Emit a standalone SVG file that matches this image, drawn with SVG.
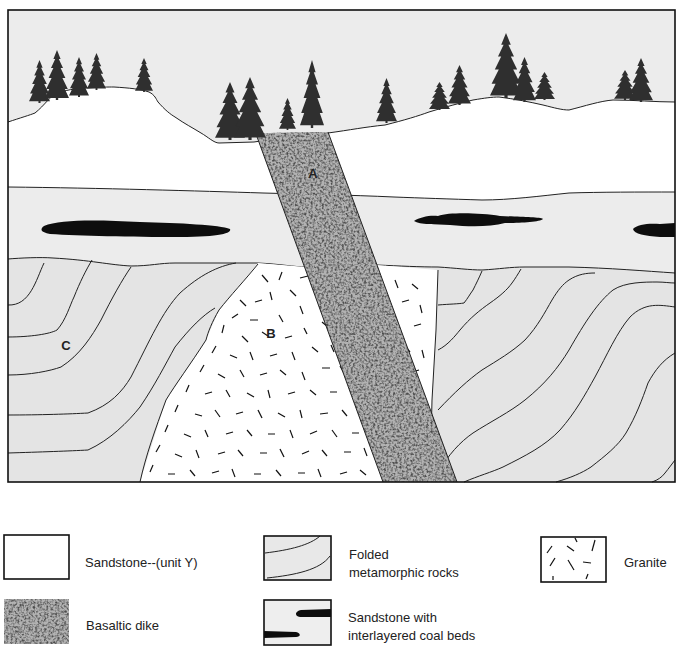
<svg xmlns="http://www.w3.org/2000/svg" width="683" height="656" viewBox="0 0 683 656">
<defs>
<filter id="grain" x="0" y="0" width="100%" height="100%" color-interpolation-filters="sRGB">
<feTurbulence type="fractalNoise" baseFrequency="0.45" numOctaves="2" seed="3" result="n"/>
<feColorMatrix in="n" type="matrix" values="0 0 0 0 0.3  0 0 0 0 0.3  0 0 0 0 0.3  2.6 0 0 0 -1.05" result="m"/>
<feComposite in="m" in2="SourceGraphic" operator="in" result="c"/>
<feMerge><feMergeNode in="SourceGraphic"/><feMergeNode in="c"/></feMerge>
</filter>
<symbol id="tree" viewBox="0 0 40 100" preserveAspectRatio="none">
<path d="M20 0 L26 18 L23 18 L30 36 L26 36 L34 56 L29 56 L38 78 L33 78 L40 96 L22 96 L22 100 L18 100 L18 96 L0 96 L7 78 L2 78 L11 56 L6 56 L14 36 L10 36 L17 18 L14 18 Z" fill="#2f2f2f"/>
</symbol>
<clipPath id="gclip"><path d="M258 263 L306 267 L377 265 L438 270 L436 330 L432 400 L430 482 L140 482 L166 400 L206 340 L219 310 Z"/></clipPath>
</defs>
<style>
.ln{fill:none;stroke:#222;stroke-width:1}
.fr{fill:none;stroke:#111;stroke-width:1.6}
.coal{fill:#0d0d0d}
.d{stroke:#111;stroke-width:1.2;stroke-linecap:butt}
.lbl{font-family:"Liberation Sans",Arial,sans-serif;font-size:13px;fill:#222}
.ab{font-family:"Liberation Sans",Arial,sans-serif;font-size:13px;font-weight:bold;fill:#222}
</style>
<rect width="683" height="656" fill="#fff"/>
<g id="section">
<rect x="8" y="10" width="667" height="472" fill="#ececec"/>
<path d="M8 122 C20 118 30 115 35 113 C45 105 50 96 57 93 C70 89 80 88 88 88 C100 87 108 87 114 87 C130 88 140 89 149 92 C155 95 156 99 158 102 C165 110 170 114 175 117 C185 124 193 128 201 133 C208 137 214 143 219 143 L254 142 C280 138 300 136 328 133 C350 130 365 127 385 125 C405 120 418 116 429 112 C445 107 460 103 473 100 C485 98 492 97 499 97 C515 99 530 102 543 105 C555 108 562 110 569 110 C585 106 600 101 613 100 C635 100 655 102 675 102 L675 192 C640 192 600 192 569 193 C540 196 510 200 482 200 C450 199 420 198 394 197 C350 195 300 194 263 193 C200 191 100 188 8 187 Z" fill="#fff"/>
<path class="ln" d="M8 122 C20 118 30 115 35 113 C45 105 50 96 57 93 C70 89 80 88 88 88 C100 87 108 87 114 87 C130 88 140 89 149 92 C155 95 156 99 158 102 C165 110 170 114 175 117 C185 124 193 128 201 133 C208 137 214 143 219 143 L254 142 C280 138 300 136 328 133 C350 130 365 127 385 125 C405 120 418 116 429 112 C445 107 460 103 473 100 C485 98 492 97 499 97 C515 99 530 102 543 105 C555 108 562 110 569 110 C585 106 600 101 613 100 C635 100 655 102 675 102"/>
<path class="ln" d="M8 187 C100 188 200 191 263 193 C300 194 350 195 394 197 C420 198 450 199 482 200 C510 200 540 196 569 193 C600 192 640 192 675 192"/>
<path class="coal" d="M44 226 C60 219 100 220 140 222 C180 223 220 225 230 229 C232 233 220 237 180 237 C130 237 80 236 50 234 C40 232 40 229 44 226 Z"/>
<path class="coal" d="M414 221 C420 217 430 215 438 216 C450 212 480 213 500 216 C520 217 540 217 543 219 C540 222 520 223 505 223 C490 227 470 227 450 225 C435 224 420 225 414 221 Z"/>
<path class="coal" d="M633 229 C637 224 650 223 660 224 L675 223 L675 237 L660 237 C645 236 634 234 633 229 Z"/>
<path d="M8 259 C20 258 40 257 53 258 C90 260 110 265 131 266 C150 266 160 263 175 263 L258 263 C280 264 295 267 306 267 C330 266 355 265 377 265 C400 266 420 267 438 267 C455 268 470 270 482 270 C500 269 510 267 525 267 L569 267 C610 268 645 271 675 273 L675 482 L8 482 Z" fill="#e4e4e4"/>
<path class="ln" d="M8 259 C20 258 40 257 53 258 C90 260 110 265 131 266 C150 266 160 263 175 263 L258 263 C280 264 295 267 306 267 C330 266 355 265 377 265 C400 266 420 267 438 267 C455 268 470 270 482 270 C500 269 510 267 525 267 L569 267 C610 268 645 271 675 273"/>
<path class="ln" d="M8 305 C30 306 36 280 44 263"/>
<path class="ln" d="M8 337 C30 337 50 334 57 330 C66 320 70 305 74 297 C80 282 86 270 92 260"/>
<path class="ln" d="M8 375 C30 375 50 371 61 367 C80 355 92 336 101 320 C112 298 122 280 131 267"/>
<path class="ln" d="M8 415 C40 415 70 414 88 413 C110 405 122 392 131 377 C150 340 162 312 180 293 C200 275 218 266 236 263"/>
<path class="ln" d="M8 453 C40 452 70 451 88 450 C110 440 128 422 140 407 C155 385 165 365 175 347 C190 328 203 315 215 308"/>
<path d="M258 263 L306 267 L377 265 L438 270 L436 330 L432 400 L430 482 L140 482 L166 400 L206 340 L219 310 Z" fill="#fff"/>
<path class="ln" d="M258 264 C245 280 230 296 219 310 C212 322 208 332 206 340 C190 365 175 385 166 400 C155 430 146 455 140 482"/>
<path class="ln" d="M438 270 L436 330 L432 400 L430 482"/>
<g clip-path="url(#gclip)">
<g class="d">
<line x1="262" y1="275" x2="268" y2="282"/><line x1="282" y1="272" x2="279" y2="280"/><line x1="300" y1="278" x2="308" y2="276"/><line x1="270" y1="292" x2="272" y2="300"/><line x1="290" y1="290" x2="296" y2="296"/>
<line x1="240" y1="300" x2="246" y2="306"/><line x1="255" y1="302" x2="262" y2="300"/><line x1="232" y1="318" x2="238" y2="314"/><line x1="250" y1="320" x2="258" y2="320"/><line x1="279" y1="315" x2="283" y2="322"/>
<line x1="300" y1="306" x2="303" y2="314"/><line x1="318" y1="300" x2="325" y2="303"/><line x1="222" y1="333" x2="224" y2="325"/><line x1="242" y1="336" x2="248" y2="342"/><line x1="262" y1="332" x2="268" y2="336"/>
<line x1="285" y1="338" x2="292" y2="336"/><line x1="304" y1="328" x2="307" y2="334"/><line x1="322" y1="322" x2="328" y2="327"/><line x1="212" y1="353" x2="216" y2="346"/><line x1="230" y1="355" x2="237" y2="358"/>
<line x1="250" y1="352" x2="253" y2="360"/><line x1="270" y1="356" x2="277" y2="354"/><line x1="292" y1="352" x2="295" y2="360"/><line x1="312" y1="347" x2="318" y2="352"/><line x1="331" y1="345" x2="334" y2="352"/>
<line x1="200" y1="372" x2="204" y2="365"/><line x1="218" y1="374" x2="225" y2="378"/><line x1="240" y1="370" x2="244" y2="377"/><line x1="260" y1="375" x2="267" y2="373"/><line x1="280" y1="370" x2="286" y2="375"/>
<line x1="302" y1="372" x2="305" y2="380"/><line x1="322" y1="368" x2="330" y2="368"/><line x1="340" y1="366" x2="344" y2="373"/><line x1="186" y1="392" x2="189" y2="385"/><line x1="205" y1="394" x2="212" y2="392"/>
<line x1="226" y1="390" x2="230" y2="397"/><line x1="247" y1="393" x2="254" y2="397"/><line x1="268" y1="390" x2="270" y2="398"/><line x1="288" y1="394" x2="295" y2="392"/><line x1="310" y1="390" x2="316" y2="395"/>
<line x1="330" y1="392" x2="337" y2="392"/><line x1="350" y1="386" x2="353" y2="394"/><line x1="175" y1="412" x2="178" y2="405"/><line x1="195" y1="414" x2="202" y2="416"/><line x1="215" y1="410" x2="220" y2="417"/>
<line x1="236" y1="414" x2="243" y2="412"/><line x1="258" y1="410" x2="262" y2="418"/><line x1="278" y1="413" x2="285" y2="417"/><line x1="300" y1="410" x2="302" y2="418"/><line x1="320" y1="414" x2="328" y2="413"/>
<line x1="342" y1="410" x2="347" y2="416"/><line x1="362" y1="406" x2="364" y2="414"/><line x1="165" y1="432" x2="168" y2="425"/><line x1="184" y1="434" x2="191" y2="437"/><line x1="205" y1="430" x2="208" y2="437"/>
<line x1="226" y1="434" x2="233" y2="432"/><line x1="247" y1="430" x2="252" y2="436"/><line x1="268" y1="434" x2="275" y2="434"/><line x1="290" y1="430" x2="293" y2="438"/><line x1="310" y1="434" x2="317" y2="431"/>
<line x1="332" y1="430" x2="337" y2="437"/><line x1="352" y1="433" x2="359" y2="433"/><line x1="156" y1="452" x2="160" y2="445"/><line x1="175" y1="454" x2="182" y2="457"/><line x1="196" y1="450" x2="199" y2="458"/>
<line x1="218" y1="454" x2="225" y2="452"/><line x1="238" y1="450" x2="243" y2="456"/><line x1="260" y1="453" x2="267" y2="453"/><line x1="280" y1="449" x2="284" y2="457"/><line x1="302" y1="454" x2="309" y2="451"/>
<line x1="322" y1="450" x2="327" y2="456"/><line x1="344" y1="452" x2="351" y2="452"/><line x1="364" y1="448" x2="367" y2="456"/><line x1="150" y1="472" x2="153" y2="465"/><line x1="168" y1="474" x2="175" y2="474"/>
<line x1="190" y1="470" x2="195" y2="476"/><line x1="212" y1="473" x2="219" y2="471"/><line x1="232" y1="469" x2="235" y2="477"/><line x1="254" y1="474" x2="261" y2="474"/><line x1="276" y1="470" x2="281" y2="476"/>
<line x1="298" y1="473" x2="305" y2="473"/><line x1="318" y1="469" x2="321" y2="477"/><line x1="340" y1="474" x2="347" y2="472"/><line x1="360" y1="470" x2="366" y2="475"/>
<line x1="395" y1="280" x2="398" y2="288"/><line x1="412" y1="284" x2="418" y2="289"/><line x1="402" y1="302" x2="409" y2="300"/><line x1="420" y1="305" x2="422" y2="313"/><line x1="396" y1="322" x2="400" y2="329"/>
<line x1="414" y1="326" x2="421" y2="324"/><line x1="405" y1="346" x2="410" y2="352"/><line x1="422" y1="350" x2="424" y2="358"/><line x1="412" y1="372" x2="419" y2="370"/><line x1="420" y1="392" x2="425" y2="398"/>
<line x1="418" y1="418" x2="424" y2="423"/><line x1="423" y1="440" x2="425" y2="448"/>
</g>
</g>
<path class="ln" d="M438 305 C450 304 458 304 464 303 C468 298 470 294 473 290 C476 284 479 278 482 271"/>
<path class="ln" d="M438 350 C448 345 455 336 460 330 C470 318 480 310 490 303 C500 296 507 290 512 283 C515 279 518 274 521 269"/>
<path class="ln" d="M438 410 C455 392 468 380 482 370 C498 360 512 352 525 340 C538 326 545 312 552 300 C558 290 563 284 569 280 C578 274 587 273 595 273"/>
<path class="ln" d="M438 473 C448 455 460 442 473 433 C490 422 510 412 525 400 C545 384 558 368 569 350 C585 322 598 302 613 290 C625 282 645 282 657 282 C664 282 670 283 675 283"/>
<path class="ln" d="M464 482 C478 476 492 472 503 467 C525 456 545 446 560 430 C575 413 585 395 595 377 C607 355 617 332 630 317 C645 302 660 305 675 307"/>
<path class="ln" d="M556 482 C570 478 582 473 591 467 C605 456 618 446 626 433 C636 416 642 400 648 383 C655 370 663 360 675 353"/>
<path class="ln" d="M652 482 C658 480 662 477 665 473 C669 468 672 464 675 460"/>
<g id="dike">
<path d="M256 134 C280 132 305 132 328 132 L457 482 L383 482 Z" fill="#b2b2b2" filter="url(#grain)"/>
<path d="M256 134 L383 482 M328 132 L457 482" class="ln" stroke="#555"/>
</g>
<text class="ab" x="313" y="178" text-anchor="middle">A</text>
<text class="ab" x="271" y="338" text-anchor="middle">B</text>
<text class="ab" x="66" y="350" text-anchor="middle">C</text>
<g id="trees">
<use href="#tree" x="29" y="60" width="21" height="43"/>
<use href="#tree" x="45" y="50" width="24" height="50"/>
<use href="#tree" x="69" y="57" width="20" height="40"/>
<use href="#tree" x="87" y="53" width="19" height="37"/>
<use href="#tree" x="135" y="58" width="18" height="34"/>
<use href="#tree" x="215" y="82" width="30" height="58"/>
<use href="#tree" x="234" y="77" width="32" height="63"/>
<use href="#tree" x="279" y="98" width="17" height="32"/>
<use href="#tree" x="300" y="60" width="24" height="68"/>
<use href="#tree" x="376" y="78" width="21" height="45"/>
<use href="#tree" x="429" y="82" width="21" height="28"/>
<use href="#tree" x="448" y="65" width="23" height="40"/>
<use href="#tree" x="490" y="33" width="32" height="65"/>
<use href="#tree" x="513" y="57" width="23" height="45"/>
<use href="#tree" x="534" y="72" width="21" height="28"/>
<use href="#tree" x="614" y="70" width="22" height="30"/>
<use href="#tree" x="629" y="58" width="24" height="44"/>
</g>
<rect class="fr" x="8" y="10" width="667" height="472"/>
</g>
<g id="legend">
<g id="leg-sandstone"><rect class="fr" x="4" y="535" width="65" height="44" fill="#fff"/><text class="lbl" x="85" y="567">Sandstone--(unit Y)</text></g>
<g id="leg-folded"><rect x="264" y="536" width="67" height="44" fill="#e8e8e8"/><path class="ln" d="M265 553 C290 550 310 545 320 536 M267 578 C295 575 320 570 330 556"/><rect class="fr" x="264" y="536" width="67" height="44"/><text class="lbl" x="349" y="559">Folded</text><text class="lbl" x="349" y="577">metamorphic rocks</text></g>
<g id="leg-granite"><rect class="fr" x="541" y="537" width="65" height="45" fill="#fff"/><g class="d"><line x1="547" y1="553" x2="552" y2="546"/><line x1="567" y1="546" x2="574" y2="551"/><line x1="595" y1="540" x2="592" y2="551"/><line x1="550" y1="566" x2="555" y2="558"/><line x1="568" y1="560" x2="574" y2="570"/><line x1="583" y1="562" x2="591" y2="563"/><line x1="586" y1="579" x2="588" y2="574"/><line x1="553" y1="580" x2="553" y2="576"/><line x1="575" y1="538" x2="577" y2="542"/></g><text class="lbl" x="624" y="567">Granite</text></g>
<g id="leg-dike"><rect x="4" y="599" width="65" height="45" fill="#b2b2b2" filter="url(#grain)"/><text class="lbl" x="86" y="630">Basaltic dike</text></g>
<g id="leg-coal"><rect x="264" y="600" width="67" height="45" fill="#eeeeee"/><path class="coal" d="M331 609 L301 610 C295 611 294 616 300 617 L331 617 Z M264 631 L296 632 C301 633 301 637 296 637 L264 638 Z"/><rect class="fr" x="264" y="600" width="67" height="45"/><text class="lbl" x="348" y="622">Sandstone with</text><text class="lbl" x="348" y="640">interlayered coal beds</text></g>
</g>
</svg>
